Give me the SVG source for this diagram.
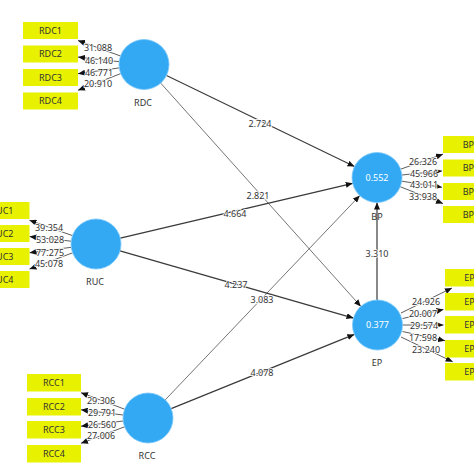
<svg xmlns="http://www.w3.org/2000/svg" width="474" height="474" viewBox="0 0 474 474">
<style>
text{font-family:"Noto Sans","Open Sans","DejaVu Sans",sans-serif;font-size:9px;text-anchor:middle}
.box{fill:#E8F200}
.bl{fill:#333}
.lv{fill:#333;stroke:#fff;stroke-width:1.6;paint-order:stroke}
.cir{fill:#33A9F4;stroke:#7CC8F8;stroke-width:0.8}
.cl{fill:#333}
.r2{fill:#fff}
.ind{stroke:#333;stroke-width:0.8;fill:none}
.st{stroke:#3a3a3a;fill:none}
</style>
<defs>
<marker id="ah" markerUnits="userSpaceOnUse" markerWidth="7" markerHeight="6" refX="7" refY="3" orient="auto">
<path d="M0,0 L7,3 L0,6 z" fill="#111"/>
</marker>
</defs>
<rect width="474" height="474" fill="#fff"/>

<g id="connectors">
<line class="st" x1="166.5" y1="75.4" x2="354.5" y2="166.6" stroke-width="1.1" marker-end="url(#ah)"/>
<line class="st" x1="160.7" y1="83.1" x2="360.8" y2="306.4" stroke-width="0.7" marker-end="url(#ah)"/>
<line class="st" x1="120.3" y1="238.2" x2="352.7" y2="183.3" stroke-width="1.3" marker-end="url(#ah)"/>
<line class="st" x1="120" y1="250.9" x2="353.5" y2="318.1" stroke-width="1.2" marker-end="url(#ah)"/>
<line class="st" x1="165.2" y1="399.9" x2="359.8" y2="195.6" stroke-width="0.7" marker-end="url(#ah)"/>
<line class="st" x1="171.2" y1="408.6" x2="354.3" y2="334.4" stroke-width="1.2" marker-end="url(#ah)"/>
<line class="st" x1="377" y1="300" x2="377" y2="202.5" stroke-width="1.2" stroke="#555" marker-end="url(#ah)"/>

<line class="ind" x1="120.5" y1="56" x2="78" y2="40.5" marker-end="url(#ah)"/>
<line class="ind" x1="119.2" y1="61.7" x2="78" y2="57.1" marker-end="url(#ah)"/>
<line class="ind" x1="119.2" y1="67.9" x2="78" y2="73.7" marker-end="url(#ah)"/>
<line class="ind" x1="120.7" y1="73.6" x2="78" y2="90.3" marker-end="url(#ah)"/>

<line class="ind" x1="72.4" y1="235.6" x2="29.5" y2="220.3" marker-end="url(#ah)"/>
<line class="ind" x1="71.2" y1="241.2" x2="29.5" y2="236.6" marker-end="url(#ah)"/>
<line class="ind" x1="71.2" y1="247.3" x2="29.5" y2="252.8" marker-end="url(#ah)"/>
<line class="ind" x1="72.6" y1="252.8" x2="29.5" y2="269.1" marker-end="url(#ah)"/>

<line class="ind" x1="124.6" y1="409.2" x2="81" y2="392.7" marker-end="url(#ah)"/>
<line class="ind" x1="123.2" y1="415" x2="81" y2="409.8" marker-end="url(#ah)"/>
<line class="ind" x1="123.2" y1="421" x2="81" y2="426.2" marker-end="url(#ah)"/>
<line class="ind" x1="124.6" y1="426.8" x2="81" y2="443.3" marker-end="url(#ah)"/>

<line class="ind" x1="400.6" y1="169.2" x2="443" y2="154.2" marker-end="url(#ah)"/>
<line class="ind" x1="401.9" y1="175" x2="442" y2="170.9" marker-end="url(#ah)"/>
<line class="ind" x1="401.7" y1="181.2" x2="442" y2="187.3" marker-end="url(#ah)"/>
<line class="ind" x1="400.2" y1="186.7" x2="443" y2="203.6" marker-end="url(#ah)"/>

<line class="ind" x1="401" y1="313" x2="452" y2="288" marker-end="url(#ah)"/>
<line class="ind" x1="402.5" y1="318.5" x2="443.5" y2="309.5" marker-end="url(#ah)"/>
<line class="ind" x1="402.5" y1="325" x2="443.5" y2="325" marker-end="url(#ah)"/>
<line class="ind" x1="402.5" y1="331.5" x2="445" y2="340.7" marker-end="url(#ah)"/>
<line class="ind" x1="401" y1="337" x2="452.7" y2="361.7" marker-end="url(#ah)"/>

<text class="lv" x="260" y="126.5">2.724</text>
<text class="lv" x="258" y="199">2.821</text>
<text class="lv" x="235" y="216.5">4.664</text>
<text class="lv" x="236" y="287.5">4.237</text>
<text class="lv" x="262" y="302.5">3.083</text>
<text class="lv" x="262" y="375.5">4.078</text>
<text class="lv" x="377" y="256.5">3.310</text>

<text class="lv" x="98" y="51">31.088</text>
<text class="lv" x="99" y="63.5">46.140</text>
<text class="lv" x="99" y="75.5">46.771</text>
<text class="lv" x="98" y="87">20.910</text>

<text class="lv" x="49" y="231">39.354</text>
<text class="lv" x="50" y="243">53.028</text>
<text class="lv" x="50" y="255.5">77.275</text>
<text class="lv" x="49" y="267">45.078</text>

<text class="lv" x="101" y="404">29.306</text>
<text class="lv" x="102" y="415.5">29.791</text>
<text class="lv" x="102" y="427.5">26.560</text>
<text class="lv" x="101" y="439">27.006</text>

<text class="lv" x="423" y="164.5">26.326</text>
<text class="lv" x="424" y="176.5">45.966</text>
<text class="lv" x="424" y="188">43.011</text>
<text class="lv" x="423" y="199.5">33.938</text>

<text class="lv" x="426" y="305">24.926</text>
<text class="lv" x="423" y="317">20.007</text>
<text class="lv" x="424" y="328.5">29.574</text>
<text class="lv" x="423" y="340.5">17.598</text>
<text class="lv" x="426" y="352.5">23.240</text>
</g>

<g id="RDC">
<circle class="cir" cx="144" cy="64.5" r="25"/>
<text class="cl" x="143" y="106">RDC</text>
</g>
<g id="RUC">
<circle class="cir" cx="96" cy="244" r="25"/>
<text class="cl" x="95" y="285">RUC</text>
</g>
<g id="RCC">
<circle class="cir" cx="148" cy="418" r="25"/>
<text class="cl" x="147" y="459">RCC</text>
</g>
<g id="BP">
<circle class="cir" cx="377" cy="177.5" r="25"/>
<text class="r2" x="377" y="180.5">0.552</text>
<text class="cl" x="377" y="220">BP</text>
</g>
<g id="EP">
<circle class="cir" cx="377.5" cy="325" r="25"/>
<text class="r2" x="377.5" y="328">0.377</text>
<text class="cl" x="377" y="366">EP</text>
</g>

<g id="RDC1"><rect class="box" x="23" y="22" width="55" height="17"/><text class="bl" x="50.5" y="33.8">RDC1</text></g>
<g id="RDC2"><rect class="box" x="23" y="45.5" width="55" height="17"/><text class="bl" x="50.5" y="57.3">RDC2</text></g>
<g id="RDC3"><rect class="box" x="23" y="69" width="55" height="17"/><text class="bl" x="50.5" y="80.8">RDC3</text></g>
<g id="RDC4"><rect class="box" x="23" y="92.5" width="55" height="17"/><text class="bl" x="50.5" y="104.3">RDC4</text></g>

<g id="RUC1"><rect class="box" x="-25.5" y="202" width="55" height="17"/><text class="bl" x="2" y="213.8">RUC1</text></g>
<g id="RUC2"><rect class="box" x="-25.5" y="225" width="55" height="17"/><text class="bl" x="2" y="236.8">RUC2</text></g>
<g id="RUC3"><rect class="box" x="-25.5" y="248" width="55" height="17"/><text class="bl" x="2" y="259.8">RUC3</text></g>
<g id="RUC4"><rect class="box" x="-25.5" y="271" width="55" height="17"/><text class="bl" x="2" y="282.8">RUC4</text></g>

<g id="RCC1"><rect class="box" x="27" y="374" width="54" height="17.5"/><text class="bl" x="54" y="386">RCC1</text></g>
<g id="RCC2"><rect class="box" x="27" y="398" width="54" height="17.5"/><text class="bl" x="54" y="410">RCC2</text></g>
<g id="RCC3"><rect class="box" x="27" y="421" width="54" height="17.5"/><text class="bl" x="54" y="433">RCC3</text></g>
<g id="RCC4"><rect class="box" x="27" y="445" width="54" height="17.5"/><text class="bl" x="54" y="457">RCC4</text></g>

<g id="BP1"><rect class="box" x="443" y="136" width="55" height="17"/><text class="bl" x="471" y="147.8">BP1</text></g>
<g id="BP2"><rect class="box" x="443" y="159.5" width="55" height="17"/><text class="bl" x="471" y="171.3">BP2</text></g>
<g id="BP3"><rect class="box" x="443" y="183" width="55" height="17"/><text class="bl" x="471" y="194.8">BP3</text></g>
<g id="BP4"><rect class="box" x="443" y="206" width="55" height="17"/><text class="bl" x="471" y="217.8">BP4</text></g>

<g id="EP1"><rect class="box" x="445" y="269" width="55" height="17.5"/><text class="bl" x="472" y="281">EP1</text></g>
<g id="EP2"><rect class="box" x="445" y="293" width="55" height="17.5"/><text class="bl" x="472" y="305">EP2</text></g>
<g id="EP3"><rect class="box" x="445" y="316" width="55" height="17.5"/><text class="bl" x="472" y="328">EP3</text></g>
<g id="EP4"><rect class="box" x="445" y="340" width="55" height="17.5"/><text class="bl" x="472" y="352">EP4</text></g>
<g id="EP5"><rect class="box" x="445" y="363" width="55" height="17.5"/><text class="bl" x="472" y="375">EP5</text></g>
</svg>
